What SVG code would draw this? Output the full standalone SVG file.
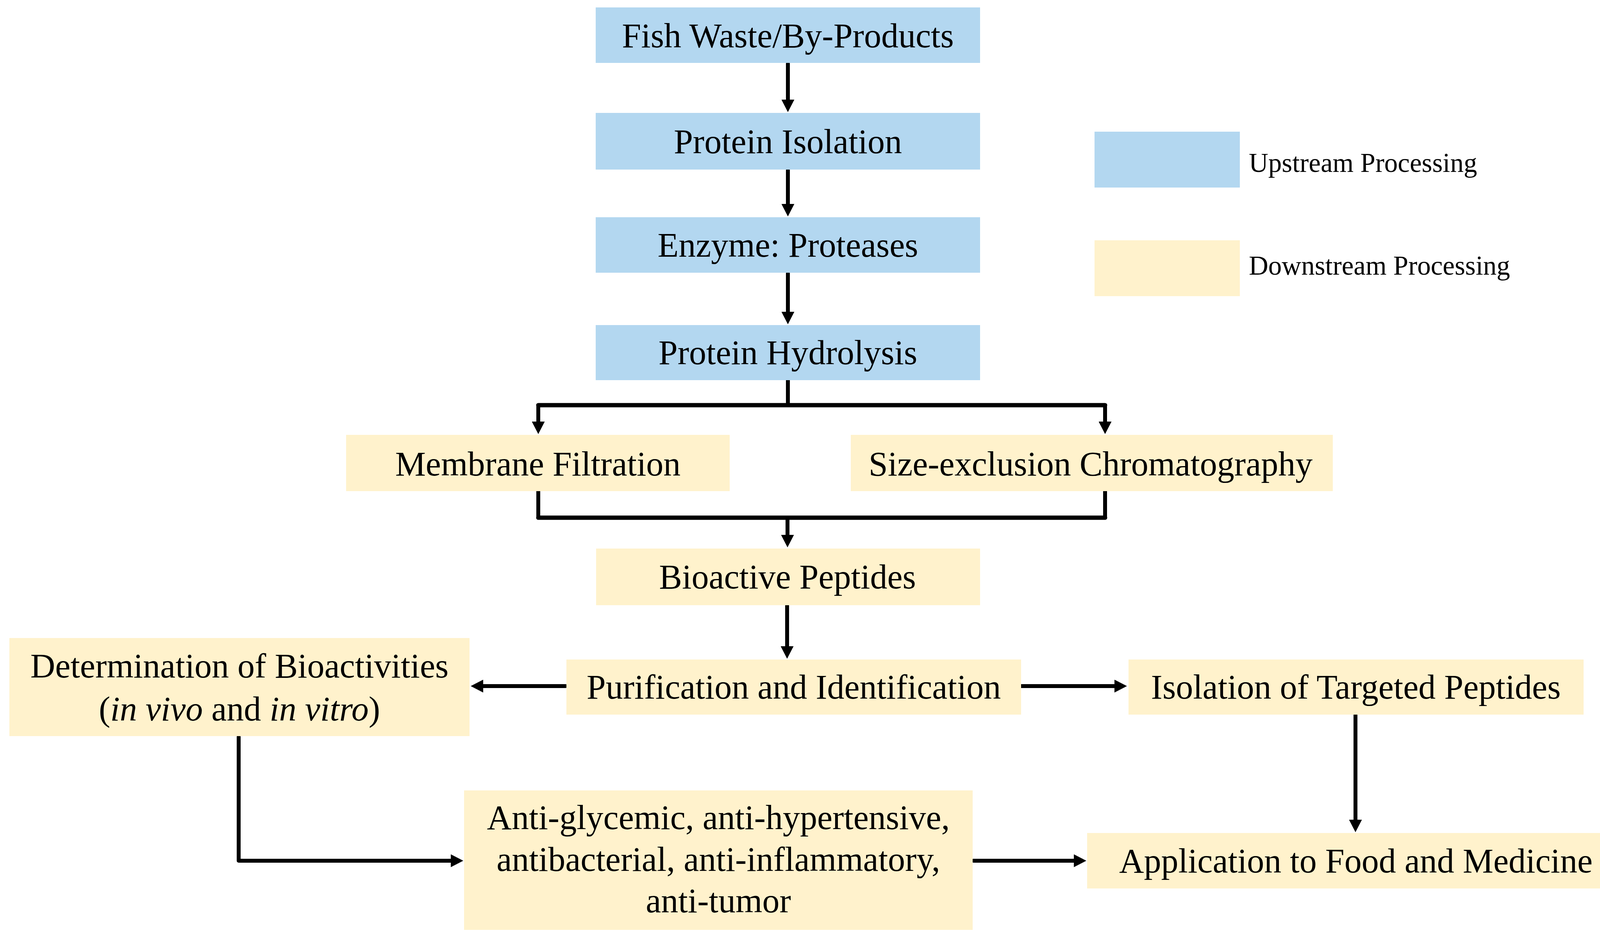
<svg xmlns="http://www.w3.org/2000/svg" width="4183" height="2411" viewBox="0 0 4183 2411">
<style>
.up{fill:#B3D7F0}
.dn{fill:#FFF2CC}
.t{font-family:"Liberation Serif","Times New Roman",serif;font-size:88px;fill:#000;text-anchor:middle}
.lg{font-family:"Liberation Serif","Times New Roman",serif;font-size:69px;fill:#000}
.c{fill:none;stroke:#000;stroke-width:10;stroke-linecap:round;stroke-linejoin:round}
.bar{fill:none;stroke:#000;stroke-width:11;stroke-linecap:round}
</style>
<defs>
<marker id="ah" markerUnits="userSpaceOnUse" markerWidth="32" markerHeight="33" refX="12" refY="16.5" orient="auto">
<path d="M0,0 L32,16.5 L0,33 z" fill="#000"/>
</marker>
</defs>
<rect width="4183" height="2411" fill="#fff"/>
<g id="legend">
<rect class="up" x="2802" y="337" width="372" height="143"/>
<text class="lg" x="3197" y="440">Upstream Processing</text>
<rect class="dn" x="2802" y="615" width="372" height="143"/>
<text class="lg" x="3197" y="703">Downstream Processing</text>
</g>
<g id="connectors">
<path class="c" d="M2017,163 L2017,267" marker-end="url(#ah)"/>
<path class="c" d="M2017,436 L2017,534" marker-end="url(#ah)"/>
<path class="c" d="M2017,700 L2017,810" marker-end="url(#ah)"/>
<path class="c" d="M2017,972 L2017,1037"/>
<path class="bar" d="M1378,1037 L2829,1037"/>
<path class="c" d="M1378,1037 L1378,1091" marker-end="url(#ah)"/>
<path class="c" d="M2829,1037 L2829,1091" marker-end="url(#ah)"/>
<path class="c" d="M1378,1255 L1378,1325"/>
<path class="c" d="M2829,1255 L2829,1325"/>
<path class="bar" d="M1378,1325 L2829,1325"/>
<path class="c" d="M2016,1325 L2016,1381" marker-end="url(#ah)"/>
<path class="c" d="M2015,1550 L2015,1666" marker-end="url(#ah)"/>
<path class="c" d="M1448,1756 L1225,1756" marker-end="url(#ah)"/>
<path class="c" d="M2612,1756 L2865,1756" marker-end="url(#ah)"/>
<path class="c" d="M3470,1830 L3470,2110" marker-end="url(#ah)"/>
<path class="c" d="M611,1886 L611,2203 L1166,2203" marker-end="url(#ah)"/>
<path class="c" d="M2492,2203 L2761,2203" marker-end="url(#ah)"/>
</g>
<g id="n-fish">
<rect class="up" x="1525" y="19" width="984" height="142"/>
<text class="t" x="2017" y="121">Fish Waste/By-Products</text>
</g>
<g id="n-isolation">
<rect class="up" x="1525" y="289" width="984" height="145"/>
<text class="t" x="2017" y="392">Protein Isolation</text>
</g>
<g id="n-enzyme">
<rect class="up" x="1525" y="556" width="984" height="142"/>
<text class="t" x="2017" y="657">Enzyme: Proteases</text>
</g>
<g id="n-hydrolysis">
<rect class="up" x="1525" y="832" width="984" height="141"/>
<text class="t" x="2017" y="932">Protein Hydrolysis</text>
</g>
<g id="n-membrane">
<rect class="dn" x="886" y="1113" width="982" height="144"/>
<text class="t" x="1377" y="1217">Membrane Filtration</text>
</g>
<g id="n-sec">
<rect class="dn" x="2178" y="1113" width="1234" height="144"/>
<text class="t" x="2792" y="1217">Size-exclusion Chromatography</text>
</g>
<g id="n-bioactive">
<rect class="dn" x="1526" y="1404" width="983" height="145"/>
<text class="t" x="2016" y="1506">Bioactive Peptides</text>
</g>
<g id="n-purification">
<rect class="dn" x="1450" y="1688" width="1164" height="141"/>
<text class="t" x="2032" y="1788">Purification and Identification</text>
</g>
<g id="n-targeted">
<rect class="dn" x="2889" y="1688" width="1165" height="141"/>
<text class="t" x="3471" y="1788">Isolation of Targeted Peptides</text>
</g>
<g id="n-determination">
<rect class="dn" x="24" y="1633" width="1178" height="251"/>
<text class="t" x="613" y="1734">Determination of Bioactivities</text>
<text class="t" x="613" y="1844">(<tspan font-style="italic">in vivo</tspan> and <tspan font-style="italic">in vitro</tspan>)</text>
</g>
<g id="n-activities">
<rect class="dn" x="1188" y="2023" width="1302" height="357"/>
<text class="t" x="1839" y="2122">Anti-glycemic, anti-hypertensive,</text>
<text class="t" x="1839" y="2229">antibacterial, anti-inflammatory,</text>
<text class="t" x="1839" y="2335">anti-tumor</text>
</g>
<g id="n-application">
<rect class="dn" x="2783" y="2132" width="1377" height="142"/>
<text class="t" x="3471" y="2233">Application to Food and Medicine</text>
</g>
</svg>
